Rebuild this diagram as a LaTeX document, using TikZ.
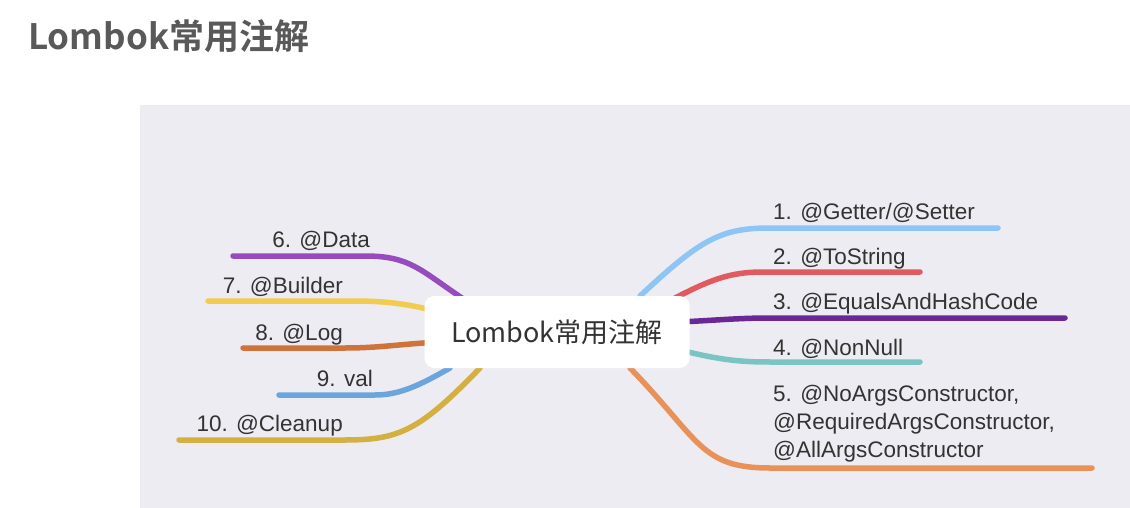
\documentclass[tikz,border=0pt]{standalone}
\usepackage{fontspec}
\setmainfont{Liberation Sans}
\newfontfamily\cjk{Noto Sans CJK SC}
\newfontfamily\cjkb{Noto Sans CJK SC Bold}
\begin{document}
\begin{tikzpicture}[x=1pt,y=-1pt,
  br/.style={line width=5.5pt,line cap=round},
  lab/.style={font=\fontsize{22.5}{26}\selectfont,text=black!80,inner sep=0pt,anchor=base west},
  labl/.style={lab,anchor=base east}]
\useasboundingbox (0,0) rectangle (1130,508);
\fill[white] (0,0) rectangle (1130,508);
\fill[fill={rgb,255:red,237;green,236;blue,242}] (140,105) rectangle (1130,508);
\node[anchor=base west,inner sep=0pt,text=black!65,font=\cjkb\fontsize{35}{40}\selectfont] (title) at (28,50) {Lombok常用注解};
\definecolor{c1}{RGB}{142,197,245}\definecolor{c2}{RGB}{224,90,96}
\definecolor{c3}{RGB}{106,40,150}\definecolor{c4}{RGB}{123,196,196}
\definecolor{c5}{RGB}{232,146,90}\definecolor{c6}{RGB}{150,75,190}
\definecolor{c7}{RGB}{242,204,80}\definecolor{c8}{RGB}{208,115,58}
\definecolor{c9}{RGB}{107,165,221}\definecolor{c10}{RGB}{212,176,64}
\coordinate (s1) at (640,296);\coordinate (m1) at (770,228);\coordinate (e1) at (998,228);
\coordinate (s2) at (675,298);\coordinate (m2) at (762,272);\coordinate (e2) at (920,272);
\coordinate (s3) at (680,322);\coordinate (m3) at (770,318);\coordinate (e3) at (1065,318);
\coordinate (s4) at (680,350);\coordinate (m4) at (770,362);\coordinate (e4) at (920,362);
\coordinate (s5) at (630,368);\coordinate (m5) at (770,468);\coordinate (e5) at (1092,468);
\coordinate (s6) at (462,298);\coordinate (m6) at (365,256);\coordinate (e6) at (233,256);
\coordinate (s7) at (440,312);\coordinate (m7) at (350,301);\coordinate (e7) at (208,301);
\coordinate (s8) at (440,342);\coordinate (m8) at (345,348);\coordinate (e8) at (243,348);
\coordinate (s9) at (450,368);\coordinate (m9) at (375,395);\coordinate (e9) at (279,395);
\coordinate (s10) at (480,368);\coordinate (m10) at (345,440);\coordinate (e10) at (179,440);
\draw[br,c1] (s1) .. controls (700,240) and (720,228) .. (m1) -- (e1);
\draw[br,c2] (s2) .. controls (710,280) and (730,272) .. (m2) -- (e2);
\draw[br,c3] (s3) .. controls (720,320) and (740,318) .. (m3) -- (e3);
\draw[br,c4] (s4) .. controls (720,360) and (740,362) .. (m4) -- (e4);
\draw[br,c5] (s5) .. controls (700,440) and (700,468) .. (m5) -- (e5);
\draw[br,c6] (s6) .. controls (420,270) and (410,256) .. (m6) -- (e6);
\draw[br,c7] (s7) .. controls (400,302) and (380,301) .. (m7) -- (e7);
\draw[br,c8] (s8) .. controls (400,344) and (380,348) .. (m8) -- (e8);
\draw[br,c9] (s9) .. controls (420,385) and (400,395) .. (m9) -- (e9);
\draw[br,c10] (s10) .. controls (420,430) and (400,440) .. (m10) -- (e10);
\node[fill=white,rounded corners=10pt,minimum width=265pt,minimum height=72pt,
  font=\cjk\fontsize{27}{30}\selectfont,text=black!80] (center) at (557,332) {Lombok常用注解};
\node[lab] (l1) at (773,219) {1. @Getter/@Setter};
\node[lab] (l2) at (773,264) {2. @ToString};
\node[lab] (l3) at (773,309) {3. @EqualsAndHashCode};
\node[lab] (l4) at (773,355) {4. @NonNull};
\node[lab,align=left,anchor=north west,font=\fontsize{22.5}{28}\selectfont] (l5) at (773,385) {5. @NoArgsConstructor,\\@RequiredArgsConstructor,\\@AllArgsConstructor};
\node[labl] (l6) at (370,247) {6. @Data};
\node[labl] (l7) at (343,293) {7. @Builder};
\node[labl] (l8) at (343,340) {8. @Log};
\node[labl] (l9) at (373,386) {9. val};
\node[labl] (l10) at (343,431) {10. @Cleanup};
\end{tikzpicture}
\end{document}
